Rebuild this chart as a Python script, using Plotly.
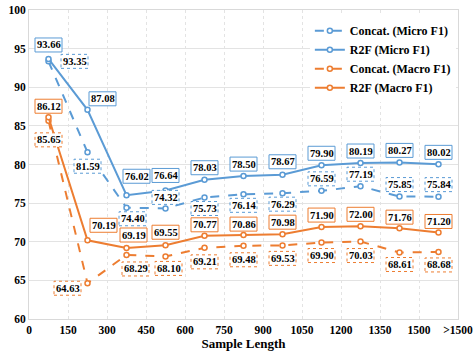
import plotly.graph_objects as go

x_vals = [75, 225, 375, 525, 675, 825, 975, 1125, 1275, 1425, 1575]
concat_micro = [93.35, 81.59, 74.40, 74.32, 75.73, 76.14, 76.29, 76.59, 77.19, 75.85, 75.84]
r2f_micro = [93.66, 87.08, 76.02, 76.64, 78.03, 78.50, 78.67, 79.90, 80.19, 80.27, 80.02]
concat_macro = [85.65, 64.63, 68.29, 68.10, 69.21, 69.48, 69.53, 69.90, 70.03, 68.61, 68.68]
r2f_macro = [86.12, 70.19, 69.19, 69.55, 70.77, 70.86, 70.98, 71.90, 72.00, 71.76, 71.20]
x_tickvals = [0, 150, 300, 450, 600, 750, 900, 1050, 1200, 1350, 1500, 1650]
x_ticktext = ["0", "150", "300", "450", "600", "750", "900", "1050", "1200", "1350", "1500", ">1500"]
y_tickvals = [60, 65, 70, 75, 80, 85, 90, 95, 100]

BLUE = "#5B9BD5"
ORANGE = "#ED7D31"
FONT = "Liberation Serif"

# label pixel offsets (dx right, dy down)
off_concat_micro = [(26, 0), (0, 14), (6, 11), (0, -11), (0, 11), (0, 11), (0, 11), (0, -12), (0, -12), (0, -12), (0, -12)]
off_r2f_micro = [(0, -14), (15, -11), (10, -19), (0, -15), (0, -12), (0, -12), (0, -13), (0, -12), (0, -12), (0, -12), (0, -12)]
off_concat_macro = [(0, 19), (-20, 5), (9, 14), (3, 12), (0, 14), (0, 14), (0, 13), (0, 13), (0, 14), (0, 12), (0, 13)]
off_r2f_macro = [(0, -11), (16, -15), (7, -13), (0, -13), (0, -11), (0, -11), (0, -12), (0, -12), (0, -12), (0, -11), (0, -11)]

series = [
    ("Concat. (Micro F1)", concat_micro, BLUE, "dash", off_concat_micro),
    ("R2F (Micro F1)", r2f_micro, BLUE, "solid", off_r2f_micro),
    ("Concat. (Macro F1)", concat_macro, ORANGE, "dash", off_concat_macro),
    ("R2F (Macro F1)", r2f_macro, ORANGE, "solid", off_r2f_macro),
]

fig = go.Figure()
shapes = []
annotations = []
for name, vals, color, dash, offs in series:
    fig.add_trace(go.Scatter(
        x=x_vals, y=vals, name=f"<b>{name}</b>", mode="lines+markers",
        line=dict(color=color, width=2, dash=dash),
        marker=dict(symbol="circle", size=5, color="white", line=dict(color=color, width=1.5)),
    ))
    for xv, yv, (dx, dy) in zip(x_vals, vals, offs):
        shapes.append(dict(
            type="rect", xref="x", yref="y", xsizemode="pixel", ysizemode="pixel",
            xanchor=xv, yanchor=yv,
            x0=dx - 13.5, x1=dx + 13.5, y0=-dy - 7, y1=-dy + 7,
            line=dict(color=color, width=1, dash="dot" if dash == "dash" else "solid"),
            fillcolor="white", layer="above",
        ))
        annotations.append(dict(
            x=xv, y=yv, xref="x", yref="y", text=f"<b>{yv:.2f}</b>",
            showarrow=False, xshift=dx, yshift=-dy,
            font=dict(family=FONT, size=10.5, color="black"),
        ))

fig.update_layout(
    width=474, height=357,
    margin=dict(l=29, r=16, t=10, b=38),
    paper_bgcolor="white", plot_bgcolor="white",
    font=dict(family=FONT, color="black"),
    shapes=shapes, annotations=annotations,
    legend=dict(
        x=0.995, y=0.98, xanchor="right", yanchor="top",
        font=dict(family=FONT, size=12, color="black"),
        bgcolor="rgba(255,255,255,1)", tracegroupgap=0, itemwidth=30,
    ),
)
fig.update_xaxes(
    range=[0, 1650], tickvals=x_tickvals, ticktext=[f"<b>{t}</b>" for t in x_ticktext],
    tickfont=dict(family=FONT, size=11.5, color="black"),
    showgrid=True, gridcolor="#e3e3e3", griddash="dot", gridwidth=1,
    showline=True, linecolor="#d9d9d9", mirror=True, zeroline=False, ticks="",
    automargin=False, ticklabeloverflow="allow",
    title=dict(text="<b>Sample Length</b>", font=dict(family=FONT, size=13, color="black"), standoff=4),
)
fig.update_yaxes(
    range=[60, 100], tickvals=y_tickvals, ticktext=[f"<b>{t}</b>" for t in y_tickvals],
    tickfont=dict(family=FONT, size=11.5, color="black"),
    showgrid=True, gridcolor="#e3e3e3", gridwidth=1,
    showline=True, linecolor="#d9d9d9", mirror=True, zeroline=False, ticks="",
    automargin=False, ticklabeloverflow="allow",
)

fig.write_html("out.html", config={"displayModeBar": False},
               post_script="document.body.style.margin='0';")
